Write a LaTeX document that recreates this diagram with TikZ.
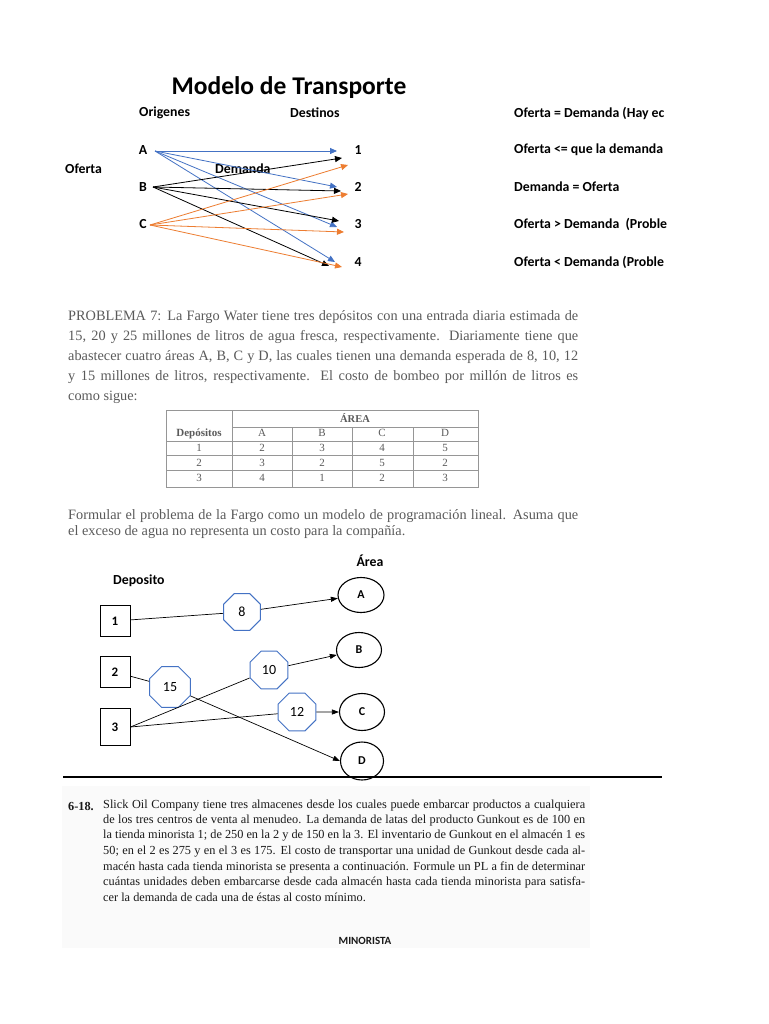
\documentclass[tikz,border=0pt]{standalone}
\usepackage{fontspec}
\setmainfont{Liberation Serif}
\newfontfamily\calibri{Carlito}
\usetikzlibrary{arrows.meta, shapes.geometric}
\definecolor{tblue}{RGB}{68, 114, 196}
\definecolor{torange}{RGB}{237, 125, 49}
\definecolor{scantext}{RGB}{90, 90, 90}
\definecolor{scanrule}{RGB}{150, 150, 150}
\definecolor{scanbg}{RGB}{250, 250, 250}
\definecolor{booktext}{RGB}{25, 25, 25}

\begin{document}
\begin{tikzpicture}[x=1pt, y=-1pt,
  title/.style={font=\calibri\bfseries\fontsize{25.5}{30}\selectfont, inner sep=0pt},
  lbl/.style={font=\calibri\bfseries\fontsize{13.8}{16}\selectfont, inner sep=0pt},
  smalllbl/.style={font=\calibri\bfseries\fontsize{11}{13}\selectfont, inner sep=0pt},
  flow/.style={draw=#1, line width=0.8pt, -{Triangle[length=7pt, width=6pt]}},
  depbox/.style={
    rectangle, draw=black, line width=1pt, fill=white,
    minimum width=30pt, minimum height=31pt, inner sep=0pt,
    font=\calibri\bfseries\fontsize{13}{15}\selectfont
  },
  areanode/.style={
    ellipse, draw=black, line width=1.1pt, fill=white,
    minimum width=45pt, minimum height=35pt, inner sep=0pt,
    font=\calibri\bfseries\fontsize{12}{14}\selectfont
  },
  qtynode/.style={
    regular polygon, regular polygon sides=8,
    draw=tblue, line width=1pt, fill=white, inner sep=0pt,
    font=\calibri\fontsize{14}{16}\selectfont
  },
  link/.style={draw=black, line width=0.7pt},
  linkarrow/.style={draw=black, line width=0.7pt,
    -{Triangle[length=7pt, width=5pt]}},
  scan/.style={font=\fontsize{14.3}{17}\selectfont, text=scantext,
    inner sep=0pt, anchor=west},
  tabtext/.style={font=\fontsize{11}{12}\selectfont, text=scantext,
    inner sep=0pt},
  book/.style={font=\fontsize{12.3}{14}\selectfont, text=booktext,
    inner sep=0pt, anchor=west},
]

%% page
\fill[white] (0,0) rectangle (768,1024);

%% ================================================================
%% TOP: Modelo de Transporte
%% ================================================================
\node[title] (ttl) at (289,88) {Modelo de Transporte};

\node[lbl, anchor=west] (orig) at (139,113) {Origenes};
\node[lbl, anchor=west] (dest) at (290,113) {Destinos};
\node[lbl, anchor=west] (ofer) at (65,169) {Oferta};
\node[lbl, anchor=west] (dema) at (215,169) {Demanda};

% origins
\node[lbl] (oa) at (143,150) {A};
\node[lbl] (ob) at (143,187) {B};
\node[lbl] (oc) at (143,224) {C};

% destinations
\node[lbl] (d1) at (358,150) {1};
\node[lbl] (d2) at (358,187) {2};
\node[lbl] (d3) at (358,224) {3};
\node[lbl] (d4) at (358,262) {4};

% arrow start / end points
\coordinate (sa) at (155,151);
\coordinate (sb) at (153,187);
\coordinate (sc) at (150,225);
\coordinate (t1a) at (337,151);
\coordinate (t1b) at (342,158);
\coordinate (t1c) at (348,165);
\coordinate (t2a) at (337,187);
\coordinate (t2b) at (341,191);
\coordinate (t2c) at (348,194);
\coordinate (t3a) at (337,227);
\coordinate (t3b) at (339,221);
\coordinate (t3c) at (344,232);
\coordinate (t4a) at (335,262);
\coordinate (t4b) at (329,266);
\coordinate (t4c) at (342,267);

% A (blue)
\draw[flow=tblue] (sa) -- (t1a);
\draw[flow=tblue] (sa) -- (t2a);
\draw[flow=tblue] (sa) -- (t3a);
\draw[flow=tblue] (sa) -- (t4a);
% B (black)
\draw[flow=black] (sb) -- (t1b);
\draw[flow=black] (sb) -- (t2b);
\draw[flow=black] (sb) -- (t3b);
\draw[flow=black] (sb) -- (t4b);
% C (orange)
\draw[flow=torange] (sc) -- (t1c);
\draw[flow=torange] (sc) -- (t2c);
\draw[flow=torange] (sc) -- (t3c);
\draw[flow=torange] (sc) -- (t4c);

% cases (cut off at the right)
\node[lbl, anchor=west] (c1) at (514,113) {Oferta = Demanda (Hay ec};
\node[lbl, anchor=west] (c2) at (514,150) {Oferta <= que la demanda};
\node[lbl, anchor=west] (c3) at (514,187) {Demanda = Oferta};
\node[lbl, anchor=west] (c4) at (514,224) {Oferta > Demanda \ (Proble};
\node[lbl, anchor=west] (c5) at (514,262) {Oferta < Demanda (Proble};

%% ================================================================
%% PROBLEMA 7 (scan)
%% ================================================================
\node[scan] (p1) at (68,317) {\makebox[510pt][s]{PROBLEMA 7: La Fargo Water tiene tres depósitos con una entrada diaria estimada de}};
\node[scan] (p2) at (68,337) {\makebox[510pt][s]{15, 20 y 25 millones de litros de agua fresca, respectivamente. Diariamente tiene que}};
\node[scan] (p3) at (68,357) {\makebox[510pt][s]{abastecer cuatro áreas A, B, C y D, las cuales tienen una demanda esperada de 8, 10, 12}};
\node[scan] (p4) at (68,377) {\makebox[510pt][s]{y 15 millones de litros, respectivamente. El costo de bombeo por millón de litros es}};
\node[scan] (p5) at (68,397) {como sigue:};

% cost table
\draw[scanrule, line width=0.7pt] (166,410) rectangle (478,487);
\draw[scanrule, line width=0.7pt] (232,410) -- (232,487);
\draw[scanrule, line width=0.7pt] (292,427) -- (292,487);
\draw[scanrule, line width=0.7pt] (352,427) -- (352,487);
\draw[scanrule, line width=0.7pt] (413,427) -- (413,487);
\draw[scanrule, line width=0.7pt] (232,427) -- (478,427);
\draw[scanrule, line width=0.7pt] (166,441) -- (478,441);
\draw[scanrule, line width=0.7pt] (166,455) -- (478,455);
\draw[scanrule, line width=0.7pt] (166,470) -- (478,470);

\node[tabtext, font=\bfseries\fontsize{10.5}{12}\selectfont] (tarea) at (355,418) {ÁREA};
\node[tabtext, font=\bfseries\fontsize{11}{12}\selectfont] (tdep) at (199,434) {Depósitos};
\node[tabtext] (ta) at (262,433) {A};
\node[tabtext] (tb) at (322,433) {B};
\node[tabtext] (tc) at (382,433) {C};
\node[tabtext] (td) at (445,433) {D};

\node[tabtext] (r1) at (199,448) {1};
\node[tabtext] at (262,448) {2};
\node[tabtext] at (322,448) {3};
\node[tabtext] at (382,448) {4};
\node[tabtext] at (445,448) {5};

\node[tabtext] (r2) at (199,463) {2};
\node[tabtext] at (262,463) {3};
\node[tabtext] at (322,463) {2};
\node[tabtext] at (382,463) {5};
\node[tabtext] at (445,463) {2};

\node[tabtext] (r3) at (199,478) {3};
\node[tabtext] at (262,478) {4};
\node[tabtext] at (322,478) {1};
\node[tabtext] at (382,478) {2};
\node[tabtext] at (445,478) {3};

\node[scan] (f1) at (68,516) {\makebox[510pt][s]{Formular el problema de la Fargo como un modelo de programación lineal. Asuma que}};
\node[scan] (f2) at (68,532) {el exceso de agua no representa un costo para la compañía.};

%% ================================================================
%% RED: Deposito -> Area
%% ================================================================
\node[lbl, anchor=west] (hdep) at (113,581) {Deposito};
\node[lbl] (harea) at (370,561) {Área};

\node[depbox] (b1) at (115,621) {1};
\node[depbox] (b2) at (115,672) {2};
\node[depbox, minimum height=37pt] (b3) at (115,727) {3};

\node[areanode, minimum width=46pt] (aA) at (361,595) {A};
\node[areanode] (aB) at (359,650) {B};
\node[areanode, minimum height=37pt] (aC) at (362,712) {C};
\node[areanode, minimum width=43pt, minimum height=38pt] (aD) at (362,761) {D};

\node[qtynode, minimum size=40pt] (q8)  at (242,612) {8};
\node[qtynode, minimum size=44pt] (q15) at (170,687) {15};
\node[qtynode, minimum size=41pt] (q10) at (269,670) {10};
\node[qtynode, minimum size=41pt] (q12) at (297,712) {12};

\draw[link] (b1) -- (q8);
\draw[linkarrow] (q8) -- (aA);
\draw[link] (b2) -- (q15);
\draw[linkarrow] (q15) -- (aD.west);
\draw[link] (b3.east) -- (q10);
\draw[linkarrow] (q10) -- (aB);
\draw[link] (b3.east) -- (q12);
\draw[linkarrow] (q12) -- (aC);

% rule
\draw[black, line width=1.3pt] (63,777) -- (662,777);

%% ================================================================
%% 6-18 (scan)
%% ================================================================
\fill[scanbg] (62,786) rectangle (590,948);
\node[book, font=\bfseries\fontsize{12.3}{14}\selectfont] (n618) at (68,806) {6-18.};
\node[book] (s1) at (103,806) {\makebox[482pt][s]{Slick Oil Company tiene tres almacenes desde los cuales puede embarcar productos a cualquiera}};
\node[book] (s2) at (103,821) {\makebox[482pt][s]{de los tres centros de venta al menudeo. La demanda de latas del producto Gunkout es de 100 en}};
\node[book] (s3) at (103,836) {\makebox[482pt][s]{la tienda minorista 1; de 250 en la 2 y de 150 en la 3. El inventario de Gunkout en el almacén 1 es}};
\node[book] (s4) at (103,852) {\makebox[482pt][s]{50; en el 2 es 275 y en el 3 es 175. El costo de transportar una unidad de Gunkout desde cada al-}};
\node[book] (s5) at (103,867) {\makebox[482pt][s]{macén hasta cada tienda minorista se presenta a continuación. Formule un PL a fin de determinar}};
\node[book] (s6) at (103,882) {\makebox[482pt][s]{cuántas unidades deben embarcarse desde cada almacén hasta cada tienda minorista para satisfa-}};
\node[book] (s7) at (103,897) {cer la demanda de cada una de éstas al costo mínimo.};

\node[smalllbl, font=\calibri\bfseries\fontsize{11}{13}\selectfont, text=booktext] (mino) at (365,941) {MINORISTA};

\end{tikzpicture}
\end{document}
